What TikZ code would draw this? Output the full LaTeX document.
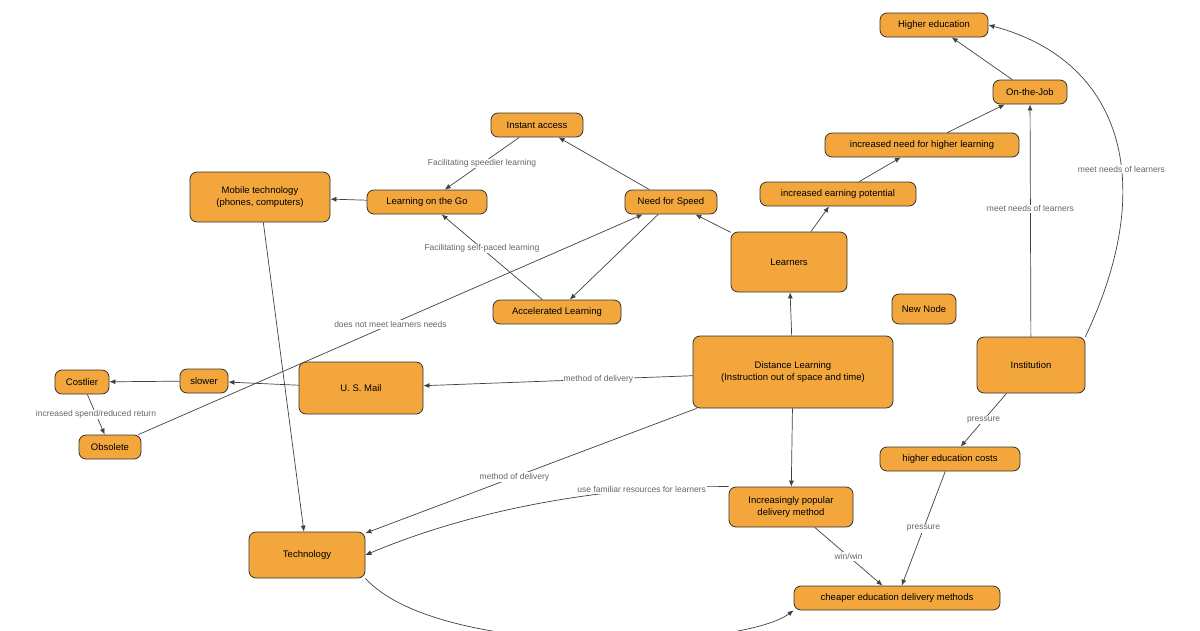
\documentclass[tikz,border=0pt]{standalone}
\usepackage{fontspec}
\setmainfont{Liberation Sans}
\usetikzlibrary{arrows.meta}
\definecolor{box}{HTML}{F2A63C}
\definecolor{lbl}{HTML}{666666}
\begin{document}
\begin{tikzpicture}[x=1pt,y=-1pt,
  n/.style={draw=black!80,line width=0.8pt,fill=box,rounded corners=7pt,align=center,
    font=\fontsize{9.5}{12}\selectfont,inner sep=0pt},
  e/.style={draw=black!75,line width=0.7pt,-{Latex[length=6pt,width=5pt]}},
  l/.style={fill=white,text=lbl,font=\fontsize{8.5}{10}\selectfont,inner sep=1pt}]
\useasboundingbox (0,0) rectangle (1200,630);
\clip (0,0) rectangle (1200,630);
\def\bx#1#2#3#4#5{\node[n,minimum width=#3pt,minimum height=#4pt] (#1) at #2 {#5};}
\bx{he}{(934,25)}{108}{24}{Higher education}
\bx{oj}{(1030,92)}{74}{24}{On-the-Job}
\bx{inh}{(922,145)}{194}{24}{increased need for higher learning}
\bx{iep}{(838,194)}{156}{24}{increased earning potential}
\bx{ia}{(537,125)}{92}{24}{Instant access}
\bx{nfs}{(671,202)}{92}{24}{Need for Speed}
\bx{log}{(427,202)}{120}{24}{Learning on the Go}
\bx{mt}{(260,197)}{140}{50}{Mobile technology\\(phones, computers)}
\bx{lr}{(789,262)}{116}{60}{Learners}
\bx{al}{(557,312)}{128}{24}{Accelerated Learning}
\bx{nn}{(924,309)}{64}{30}{New Node}
\bx{dl}{(793,372)}{200}{72}{Distance Learning\\(Instruction out of space and time)}
\bx{in}{(1031,365)}{108}{56}{Institution}
\bx{um}{(361,388)}{124}{52}{U. S. Mail}
\bx{sl}{(204,381)}{48}{24}{slower}
\bx{co}{(82,382)}{54}{24}{Costlier}
\bx{ob}{(110,447)}{62}{24}{Obsolete}
\bx{hec}{(950,459)}{140}{24}{higher education costs}
\bx{ip}{(791,507)}{124}{40}{Increasingly popular\\delivery method}
\bx{te}{(307,555)}{116}{46}{Technology}
\bx{ch}{(897,598)}{206}{24}{cheaper education delivery methods}

\draw[e] (oj) -- (he);
\draw[e] (in.north east) .. controls (1160,180) and (1120,60) .. (he.east) node[l,pos=0.4] {meet needs of learners};
\draw[e] (in) -- node[l,pos=0.55] {meet needs of learners} (oj);
\draw[e] (inh) -- (oj);
\draw[e] (iep) -- (inh);
\draw[e] (lr) -- (iep);
\draw[e] (lr) -- (nfs);
\draw[e] (nfs) -- (ia);
\draw[e] (ia) -- node[l] {Facilitating speedier learning} (log);
\draw[e] (log) -- (mt);
\draw[e] (al) -- node[l,pos=0.6] {Facilitating self-paced learning} (log);
\draw[e] (nfs) -- (al);
\draw[e] (ob) -- node[l,pos=0.5] {does not meet learners needs} (nfs);
\draw[e] (dl) -- (lr);
\draw[e] (dl) -- node[l,pos=0.35] {method of delivery} (um);
\draw[e] (um) -- (sl);
\draw[e] (sl) -- (co);
\draw[e] (co) -- node[l] {increased spend/reduced return} (ob);
\draw[e] (mt) -- (te);
\draw[e] (dl) -- node[l,pos=0.55] {method of delivery} (te);
\draw[e] (dl) -- (ip);
\draw[e] (ip.north west) .. controls (680,485) and (520,490) .. (te.east) node[l,pos=0.35] {use familiar resources for learners};
\draw[e] (ip) -- node[l] {win/win} (ch);
\draw[e] (in) -- node[l] {pressure} (hec);
\draw[e] (hec) -- node[l] {pressure} (ch);
\draw[e] (te.south east) .. controls (440,660) and (740,650) .. (ch.south west);
\end{tikzpicture}
\end{document}
